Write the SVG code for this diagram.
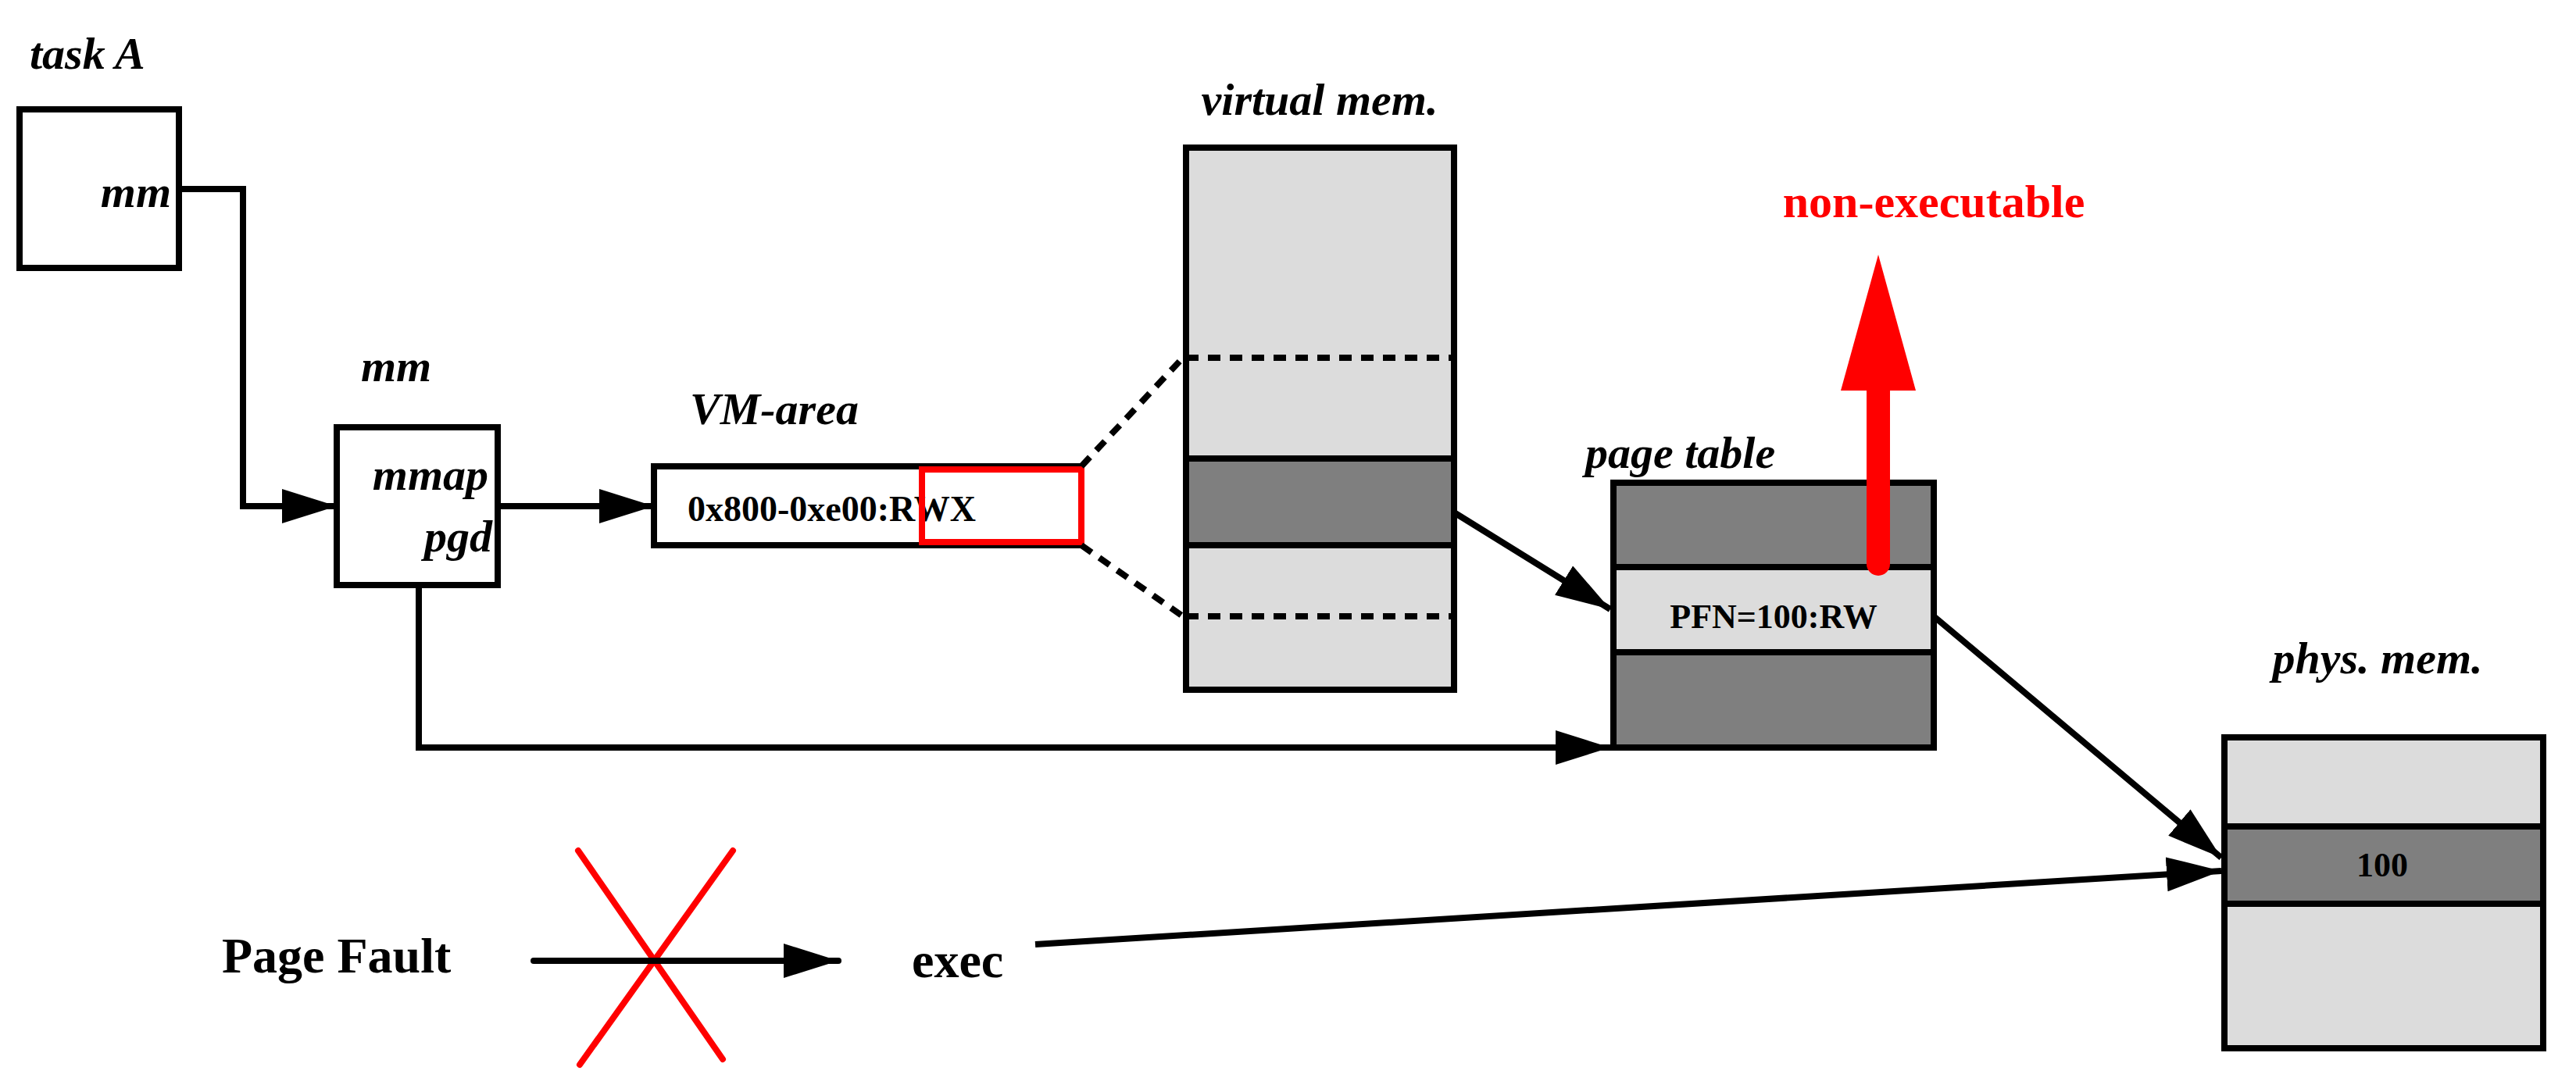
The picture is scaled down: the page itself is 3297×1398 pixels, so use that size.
<svg xmlns="http://www.w3.org/2000/svg" width="3297" height="1398" viewBox="0 0 3297 1398">
<style>
.t{font-family:"Liberation Serif",serif;font-weight:bold;fill:#000}
.i{font-style:italic;font-size:58px}
.b{stroke:#000;stroke-width:8;}
.c{stroke:#000;stroke-width:8;fill:none}
</style>
<defs>
<marker id="ah" markerWidth="16" markerHeight="10" refX="16" refY="5" orient="auto" markerUnits="userSpaceOnUse" viewBox="0 0 16 10"><path d="M0,0L16,5L0,10z" fill="#000"/></marker>
<marker id="ah2" viewBox="0 0 70 44" refX="70" refY="22" markerWidth="70" markerHeight="44" orient="auto" markerUnits="userSpaceOnUse"><path d="M0,0L70,22L0,44z" fill="#000"/></marker>
</defs>
<rect width="3297" height="1398" fill="#fff"/>
<g id="taskA">
<text class="t i" x="38" y="88">task A</text>
<rect class="b" x="25" y="140" width="204" height="203" fill="#fff"/>
<text class="t i" x="219" y="265" text-anchor="end">mm</text>
</g>
<g id="mm">
<text class="t i" x="507" y="488" text-anchor="middle">mm</text>
<rect class="b" x="431" y="547" width="206" height="202" fill="#fff"/>
<text class="t i" x="625" y="627" text-anchor="end">mmap</text>
<text class="t i" x="630" y="706" text-anchor="end">pgd</text>
</g>
<g id="vmarea">
<text class="t i" x="883" y="543">VM-area</text>
<rect class="b" x="837" y="597" width="547" height="101" fill="#fff"/>
<text class="t" x="880" y="667" font-size="46">0x800-0xe00:RWX</text>
<rect x="1180" y="601" width="204" height="93" fill="none" stroke="#f00" stroke-width="8"/>
</g>
<g id="virtualmem">
<text class="t i" x="1689" y="147" text-anchor="middle">virtual mem.</text>
<rect class="b" x="1518" y="189" width="343" height="694" fill="#dcdcdc"/>
<rect class="b" x="1518" y="587" width="343" height="111" fill="#7f7f7f"/>
<line x1="1518" y1="458" x2="1861" y2="458" stroke="#000" stroke-width="8" stroke-dasharray="16,12"/>
<line x1="1518" y1="789" x2="1861" y2="789" stroke="#000" stroke-width="8" stroke-dasharray="16,12"/>
</g>
<g id="pagetable">
<text class="t i" x="2029" y="599">page table</text>
<rect class="b" x="2065" y="618" width="410" height="108" fill="#7f7f7f"/>
<rect class="b" x="2065" y="726" width="410" height="109" fill="#dcdcdc"/>
<rect class="b" x="2065" y="835" width="410" height="122" fill="#7f7f7f"/>
<text class="t" x="2270" y="804" font-size="44" text-anchor="middle">PFN=100:RW</text>
</g>
<g id="nonexec">
<text x="2475" y="278" font-family="Liberation Serif,serif" font-weight="bold" font-size="60" fill="#f00" text-anchor="middle">non-executable</text>
<line x1="2404" y1="722" x2="2404" y2="495" stroke="#f00" stroke-width="30" stroke-linecap="round"/>
<path d="M2404,326L2452,500L2356,500z" fill="#f00"/>
</g>
<g id="physmem">
<text class="t i" x="3043" y="862" text-anchor="middle">phys. mem.</text>
<rect class="b" x="2847" y="944" width="408" height="114" fill="#dcdcdc"/>
<rect class="b" x="2847" y="1058" width="408" height="99" fill="#7f7f7f"/>
<rect class="b" x="2847" y="1157" width="408" height="185" fill="#dcdcdc"/>
<text class="t" x="3049" y="1122" font-size="44" text-anchor="middle">100</text>
</g>
<g id="pagefault">
<text class="t" x="284" y="1245" font-size="64">Page Fault</text>
<text class="t" x="1167" y="1251" font-size="64">exec</text>
<line x1="740" y1="1089" x2="925" y2="1356" stroke="#f00" stroke-width="8" stroke-linecap="round"/>
<line x1="938" y1="1089" x2="742" y2="1363" stroke="#f00" stroke-width="8" stroke-linecap="round"/>
</g>
<g id="connectors">
<polyline class="c" points="229,242 311,242 311,648 431,648" marker-end="url(#ah2)"/>
<line class="c" x1="637" y1="648" x2="837" y2="648" marker-end="url(#ah2)"/>
<line x1="1384" y1="597" x2="1514" y2="458" stroke="#000" stroke-width="8" stroke-dasharray="16,12"/>
<line x1="1384" y1="698" x2="1514" y2="789" stroke="#000" stroke-width="8" stroke-dasharray="16,12"/>
<line class="c" x1="1861" y1="656" x2="2061" y2="780" marker-end="url(#ah2)"/>
<polyline class="c" points="536,749 536,957 2061,957" marker-end="url(#ah2)"/>
<line class="c" x1="2475" y1="789" x2="2843" y2="1098" marker-end="url(#ah2)"/>
<line class="c" x1="683" y1="1230" x2="1073" y2="1230" stroke-linecap="round" marker-end="url(#ah2)"/>
<line class="c" x1="1325" y1="1209" x2="2843" y2="1115" marker-end="url(#ah2)"/>
</g>
</svg>
